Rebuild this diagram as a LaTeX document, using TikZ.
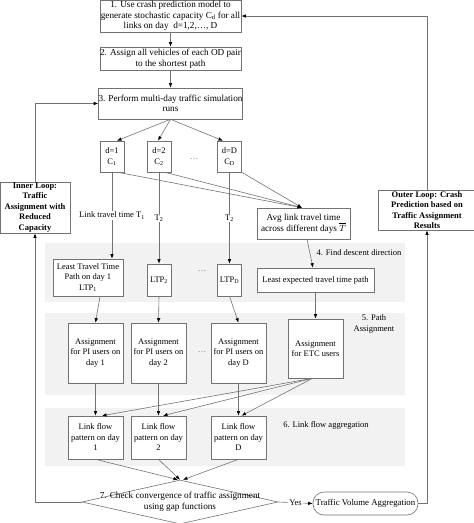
\documentclass[tikz,border=0pt]{standalone}
\usepackage{fontspec}
\setmainfont{Liberation Serif}
\usepackage{tikz}
\usetikzlibrary{arrows.meta,shapes.geometric,calc}
\definecolor{edgegray}{RGB}{115,115,115}
\definecolor{panel}{RGB}{242,242,242}
\newcommand{\boxfont}{\fontsize{8.5}{10.5}\selectfont}
\newcommand{\stepfont}{\fontsize{9.2}{10.6}\selectfont}
\tikzset{
    box/.style={rectangle,draw=edgegray,line width=0.6pt,fill=white,inner sep=1pt,align=center,font=\boxfont},
    stepbox/.style={box,inner sep=0pt,font=\stepfont},
    loopbox/.style={box,inner sep=0pt,font=\boxfont\bfseries},
    check/.style={diamond,draw=edgegray,line width=0.6pt,fill=white,inner sep=0pt},
    term/.style={box,rounded corners=11pt,font=\fontsize{8.8}{10.5}\selectfont},
    grp/.style={fill=panel},
    glabel/.style={font=\boxfont,align=center},
    tlabel/.style={fill=white,inner sep=1pt,font=\boxfont},
    dots/.style={font=\boxfont,text=edgegray},
    arr/.style={-{Latex[length=4.5pt,width=3.5pt,color=black]},draw=edgegray,line width=0.6pt},
}

\begin{document}
\begin{tikzpicture}[x=1pt,y=-1pt]
\useasboundingbox (0,0) rectangle (474,523);
% stage panels
\fill[grp] (45,243) rectangle (405,302);
\fill[grp] (45,313) rectangle (405,395);
\fill[grp] (45,408) rectangle (405,466);

\node[stepbox,minimum width=141pt,minimum height=32pt] (s1) at (170.5,16) {1. Use crash prediction model to\\generate stochastic capacity C\textsubscript{d} for all\\links on day~ d=1,2,\ldots, D};
\node[stepbox,minimum width=141pt,minimum height=23pt] (s2) at (170.5,58.5) {2. Assign all vehicles of each OD pair\\to the shortest path};
\node[stepbox,minimum width=141pt,minimum height=31pt] (s3) at (170.5,103.5) {3. Perform multi-day traffic simulation\\runs};

\node[box,minimum width=24pt,minimum height=31pt] (d1) at (112,156.5) {d=1\\C\textsubscript{1}};
\node[box,minimum width=24pt,minimum height=31pt] (d2) at (159,156.5) {d=2\\C\textsubscript{2}};
\node[box,minimum width=24pt,minimum height=31pt] (dD) at (229.5,156.5) {d=D\\C\textsubscript{D}};
\node[dots] (dd1) at (194,159) {\ldots};

\node[loopbox,minimum width=70pt,minimum height=51pt] (inner) at (35,207.5) {Inner Loop:\\Traffic\\Assignment with\\Reduced\\Capacity};
\node[loopbox,minimum width=98pt,minimum height=40pt] (outer) at (427,210) {Outer Loop: Crash\\Prediction based on\\Traffic Assignment\\Results};

\node[stepbox,minimum width=93pt,minimum height=31pt] (avg) at (303.5,223.5) {Avg link travel time\\across different days $\overline{T}$};

% 4. descent direction
\node[box,minimum width=70pt,minimum height=37pt] (ltp1) at (88,277.5) {Least Travel Time\\Path on day 1\\LTP\textsubscript{1}};
\node[box,minimum width=24pt,minimum height=32pt] (ltp2) at (159,280) {LTP\textsubscript{2}};
\node[box,minimum width=24pt,minimum height=32pt] (ltpD) at (229.5,280) {LTP\textsubscript{D}};
\node[dots] (dd2) at (202,271) {\ldots};
\node[box,minimum width=117pt,minimum height=24pt] (lept) at (315.5,280) {Least expected travel time path};
\node[glabel,anchor=east] (g4) at (405,253) {4. Find descent direction};

% 5. path assignment
\node[box,minimum width=55pt,minimum height=60pt] (a1) at (95.5,353) {Assignment\\for PI users on\\day 1};
\node[box,minimum width=55pt,minimum height=60pt] (a2) at (158.5,353) {Assignment\\for PI users on\\day 2};
\node[box,minimum width=55pt,minimum height=60pt] (aD) at (238.5,353) {Assignment\\for PI users on\\day D};
\node[dots] (dd3) at (202,352) {\ldots};
\node[box,minimum width=55pt,minimum height=59pt] (aE) at (315.5,348.5) {Assignment\\for ETC users};
\node[glabel] (g5) at (374,324) {5. Path\\Assignment};

% 6. link flow aggregation
\node[box,minimum width=55pt,minimum height=43pt] (f1) at (95.5,437.5) {Link flow\\pattern on day\\1};
\node[box,minimum width=55pt,minimum height=43pt] (f2) at (158.5,437.5) {Link flow\\pattern on day\\2};
\node[box,minimum width=55pt,minimum height=43pt] (fD) at (238.5,437.5) {Link flow\\pattern on day\\D};
\node[glabel] (g6) at (326,425) {6. Link flow aggregation};

% 7. convergence
\node[check,minimum width=196pt,minimum height=44pt,label={[font=\stepfont,align=center]center:{7. Check convergence of traffic assignment\\using gap functions}}] (chk) at (180,502) {};
\node[term,minimum width=105pt,minimum height=23pt] (tva) at (365.5,503.5) {Traffic Volume Aggregation};

\draw[arr] (s1) -- (s2);
\draw[arr] (s2) -- (s3);
\draw[arr] (s3.south) -- ($(d1.north)+(5,0)$);
\draw[arr] (s3.south) -- ($(d2.north)+(-1,0)$);
\draw[arr] (s3.south) -- ($(dD.north)+(-6.5,0)$);

\draw[arr] (d1.south) -- (d1.south |- ltp1.north) node[midway,tlabel] (t1) {Link travel time T\textsubscript{1}};
\draw[arr] (d2) -- (ltp2) node[midway,tlabel] (t2) {T\textsubscript{2}};
\draw[arr] (dD) -- (ltpD) node[midway,tlabel] (tD) {T\textsubscript{2}};

\coordinate (avgin) at ($(avg.north)+(-1.5,0)$);
\draw[arr] ($(d1.south)+(6,0)$) -- (avgin);
\draw[arr] ($(d2.south)+(6,0)$) -- (avgin);
\draw[arr] (dD.south east) -- (avgin);
\draw[arr] ($(avg.south)+(3.5,0)$) -- ($(lept.north)+(-2.5,0)$);

\draw[arr] ($(ltp1.south)+(12,0)$) -- (a1.north);
\draw[arr] (ltp2.south) -- (a2.north);
\draw[arr] (ltpD.south) -- (aD.north);
\draw[arr] (lept) -- (aE);

\draw[arr] (a1) -- (f1);
\draw[arr] (a2) -- (f2);
\draw[arr] (aD) -- (fD);
\draw[arr] ($(aE.south)+(-3,0)$) -- ($(f1.north)+(6.5,0)$);
\draw[arr] ($(aE.south)+(-3,0)$) -- ($(f2.north)+(4.5,0)$);
\draw[arr] ($(aE.south)+(-3,0)$) -- ($(fD.north)+(3,0)$);

\draw[arr] (f1.south) -- ($(chk.north)+(-2,0)$);
\draw[arr] (f2.south) -- (chk.north);
\draw[arr] (fD.south) -- ($(chk.north)+(3,0)$);

% loops
\draw[arr] (chk.west) -| (inner.south);
\draw[arr] (inner.north) |- (s3.west);
\draw[arr] (chk.east) -- node[tlabel] (yes) {Yes} (tva.west);
\draw[arr] (tva.east) -| (outer.south);
\draw[arr] (outer.north) |- (s1.east);
\end{tikzpicture}
\end{document}
